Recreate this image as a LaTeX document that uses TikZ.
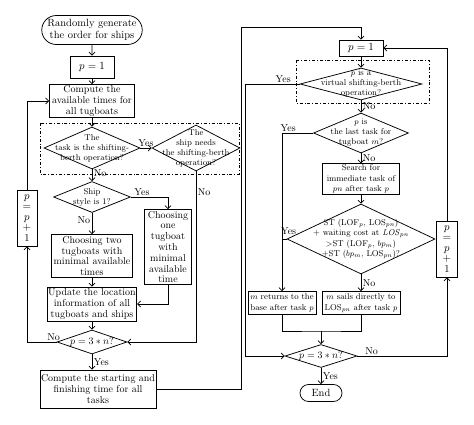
\documentclass[tikz,border=0pt]{standalone}
\usepackage{tikz}
\usetikzlibrary{arrows.meta, shapes.geometric, shapes.misc, positioning}

\begin{document}
\begin{tikzpicture}[x=1pt, y=1pt, node distance={40pt}, line width=0.75pt,
        >={Straight Barb[length=3pt,width=6pt]},
        term/.style = {draw, rounded rectangle, align=center, inner sep=1pt, font=\fontsize{10.5}{12}\selectfont},
        proc/.style = {draw, rectangle, align=center, inner sep=1pt, font=\fontsize{10}{10.8}\selectfont},
        small/.style = {draw, rectangle, align=center, inner sep=1pt, font=\fontsize{8.5}{10.5}\selectfont},
        tall/.style = {draw, rectangle, align=center, inner sep=0pt, font=\fontsize{10.5}{10.5}\selectfont},
        dec/.style = {draw, diamond, inner sep=0pt},
        dectext/.style = {align=center, inner sep=0pt, font=\fontsize{8.5}{10}\selectfont},
        lbl/.style = {font=\fontsize{10}{11}\selectfont, inner sep=1.5pt},
        group/.style = {draw, dash dot, line width=0.6pt}]
    \useasboundingbox (0,0) rectangle (474,-424);

    % left column
    \node[term, minimum width=96pt, minimum height=29pt] (order) at (92,-30) {Randomly generate\\the order for ships};
    \node[proc, minimum width=44pt, minimum height=22pt] (p1L) [node distance=37pt, below of=order] {\fontsize{10.5}{12}\selectfont$p=1$};
    \node[proc, minimum width=85pt, minimum height=33pt] (compL) [node distance=34pt, below of=p1L] {Compute the\\available times for\\all tugboats};

    \node[dec, minimum width=96pt, minimum height=42pt,
          label={[dectext]center:{The\\task is the shifting-\\berth operation?}}] (shift) [node distance=47pt, below of=compL] {};
    \node[dec, minimum width=88pt, minimum height=46pt,
          label={[dectext]center:{The\\ship needs\\the shifting-berth\\operation?}}] (check) [node distance=104pt, right of=shift] {};
    \node[dec, minimum width=77pt, minimum height=31pt,
          label={[dectext]center:{Ship\\style is 1?}}] (style) [node distance=49pt, below of=shift] {};

    \node[proc, minimum width=81pt, minimum height=43pt] (two) [node distance=59pt, below of=style] {Choosing two\\tugboats with\\minimal available\\times};
    \node[proc, minimum width=47pt, minimum height=75pt] (one) at (168,-247) {Choosing\\one\\tugboat\\with\\minimal\\available\\time};
    \node[proc, minimum width=85pt, minimum height=34pt] (upd) [node distance=48pt, below of=two] {Update the location\\information of all\\tugboats and ships};
    \node[dec, minimum width=70pt, minimum height=24pt,
          label={[dectext, font=\fontsize{10}{11}\selectfont]center:{$p=3*n$?}}] (dec4) [node distance=38pt, below of=upd] {};
    \node[proc, minimum width=114pt, minimum height=38pt] (compst) [node distance=47pt, below of=dec4, xshift=6pt] {Compute the starting and\\finishing time for all\\tasks};
    \node[tall, minimum width=20pt, minimum height=56pt] (ppL) at (27,-218) {$p$\\$=$\\$p$\\$+$\\1};

    % right column
    \node[proc, minimum width=44pt, minimum height=16pt] (p1R) at (361,-48) {\fontsize{10.5}{12}\selectfont$p=1$};
    \node[dec, minimum width=122pt, minimum height=32pt,
          label={[dectext]center:{$p$ is a\\virtual shifting-berth\\operation?}}] (virt) [node distance=36pt, below of=p1R] {};
    \node[dec, minimum width=95pt, minimum height=40pt,
          label={[dectext]center:{$p$ is\\the last task for\\tugboat $m$?}}] (last) [node distance=49pt, below of=virt] {};
    \node[small, minimum width=77pt, minimum height=30pt] (srch) [node distance=46pt, below of=last] {Search for\\immediate task of\\$pn$ after task $p$};
    \node[dec, minimum width=148pt, minimum height=70pt,
          label={[dectext, font=\fontsize{8.5}{10.5}\selectfont]center:{ST (LOF$_p$, LOS$_{pn}$)\\+ waiting cost at \textit{LOS}$_{pn}$\\$>$ST (LOF$_p$, $bp_m$)\\+ST ($bp_m$, LOS$_{pn}$)?}}] (cmp) [node distance=60pt, below of=srch] {};
    \node[small, minimum width=78pt, minimum height=23pt] (sail) [node distance=64pt, below of=cmp] {$m$ sails directly to\\LOS$_{pn}$ after task $p$};
    \node[small, minimum width=68pt, minimum height=23pt] (ret) [node distance=79pt, left of=sail] {$m$ returns to the\\base after task $p$};
    \node[dec, minimum width=72pt, minimum height=23pt,
          label={[dectext, font=\fontsize{10}{11}\selectfont]center:{$p=3*n$?}}] (dec5) at (321,-356) {};
    \node[term, minimum width=44pt, minimum height=17pt] (end) [node distance=37pt, below of=dec5] {End};
    \node[tall, minimum width=21pt, minimum height=56pt] (ppR) at (447,-249) {$p$\\$=$\\$p$\\$+$\\1};

    \coordinate (jog) at (241,-27);
    \coordinate (yesV) at (245,-84);
    \coordinate (merge) at (321,-331);

    % dash-dot groups
    \draw[group] (40,-123) rectangle (239,-174);
    \draw[group] (296,-60) rectangle (429,-103);

    % left connectors
    \path[->] (order) edge (p1L);
    \path[->] (p1L) edge (compL);
    \path[->] (compL) edge (shift);
    \draw[->] (shift) -- node[lbl, above] {Yes} (check);
    \draw[->] (shift) -- node[lbl, right, pos=0.3] {No} (style);
    \draw[->] (style) -| node[lbl, above, pos=0.15] {Yes} (one);
    \draw[->] (style) -- node[lbl, left, pos=0.35] {No} (two);
    \path[->] (two) edge (upd);
    \draw[->] (one) |- (upd);
    \path[->] (upd) edge (dec4);
    \draw[->] (check) |- node[lbl, right, pos=0.06] {No} (dec4);
    \draw[->] (dec4) -| node[lbl, above, pos=0, xshift=-3pt] {No} (ppL);
    \draw[->] (ppL) |- (compL);
    \draw[->] (dec4) -- node[lbl, right] {Yes} (dec4.south |- compst.north);
    \draw[->] (compst) -| (jog) -| (p1R);

    % right connectors
    \path[->] (p1R) edge (virt);
    \draw[->] (virt) -- node[lbl, above, pos=0.3] {Yes} (yesV) |- (dec5);
    \draw[->] (virt) -- node[lbl, right] {No} (last);
    \draw[->] (last) -| node[lbl, above, pos=0.4] {Yes} (ret);
    \draw[->] (last) -- node[lbl, right] {No} (srch);
    \path[->] (srch) edge (cmp);
    \draw (cmp.west) -- node[lbl, above, pos=0, xshift=2pt, yshift=3pt] {Yes} (cmp.west -| ret);
    \draw[->] (cmp) -- node[lbl, right] {No} (sail);
    \draw (ret) |- (merge) -| (sail);
    \draw[->] (merge) -- (dec5);
    \draw[->] (dec5) -- node[lbl, right] {Yes} (end);
    \draw[->] (dec5) -| node[lbl, above, pos=0.08] {No} (ppR);
    \draw[->] (ppR) |- (p1R);
\end{tikzpicture}
\end{document}
